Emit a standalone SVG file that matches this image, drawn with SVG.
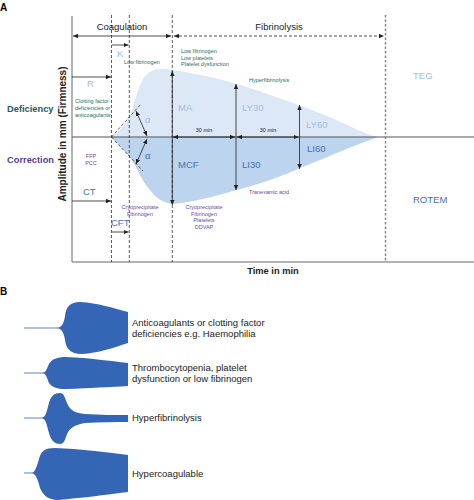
<svg xmlns="http://www.w3.org/2000/svg" width="474" height="500" viewBox="0 0 474 500">
<style>
text{font-family:"Liberation Sans",Arial,sans-serif}
.b{font-weight:bold}
.tiny{font-size:5.5px}
.tg{fill:#2f6b5e}
.tp{fill:#6b4aa0}
.lb{fill:#9fbde3;font-size:9.5px}
.db{fill:#4472b8;font-size:9.5px}
.ar{stroke:#222;stroke-width:0.8;fill:none}
.vd{stroke:#333;stroke-width:0.8;stroke-dasharray:3 2;fill:none}
.bt{font-size:9.5px;fill:#222}
.sh{fill:#3565b5}
.tail{stroke:#5a82c6;stroke-width:1}
</style>
<defs>
<marker id="ah" markerUnits="userSpaceOnUse" markerWidth="5" markerHeight="5" viewBox="0 0 5 5" refX="5" refY="2.5" orient="auto-start-reverse">
<path d="M0,0.3 L5,2.5 L0,4.7 z" fill="#222"/>
</marker>
</defs>
<rect width="474" height="500" fill="#fff"/>

<g id="panelA">
<text x="0" y="11" class="b" font-size="10">A</text>

<g id="shapes">
<path d="M111,137 C118,133 126,125 131,113 C135,101 138,88 143,79 C148,71 156,68 168,69 L172,70 C200,74 225,80 250,88 C285,100 320,112 345,124 C358,130 368,135 378,137 Z" fill="#dce8f6"/>
<path d="M111,137 C118,143 126,152 132,160 C138,170 143,183 150,190 C156,198 163,203 173,204 C195,202 215,196 237,190 C260,184 285,175 305,166 C330,156 355,145 378,137 Z" fill="#bcd4ee"/>
</g>

<g id="axes">
<line x1="72" y1="16" x2="72" y2="262" stroke="#666" stroke-width="1"/>
<line x1="72" y1="262" x2="474" y2="262" stroke="#666" stroke-width="1"/>
<line x1="72" y1="137" x2="474" y2="137" stroke="#555" stroke-width="1"/>
<line x1="111.5" y1="15" x2="111.5" y2="262" class="vd"/>
<line x1="129.3" y1="15" x2="129.3" y2="262" class="vd"/>
<line x1="172.3" y1="15" x2="172.3" y2="262" class="vd"/>
<line x1="385.5" y1="15" x2="385.5" y2="262" stroke="#888" stroke-width="1.5" stroke-dasharray="2.5 2"/>
</g>

<g id="connectors">
<line x1="73" y1="36" x2="171" y2="36" class="ar" marker-start="url(#ah)" marker-end="url(#ah)"/>
<line x1="174" y1="36" x2="384" y2="36" class="ar" stroke-dasharray="3 2" marker-start="url(#ah)" marker-end="url(#ah)"/>
<line x1="112" y1="45" x2="128.5" y2="45" class="ar" marker-end="url(#ah)"/>
<line x1="72" y1="77" x2="111" y2="77" class="ar" marker-end="url(#ah)"/>
<line x1="72" y1="201" x2="111" y2="201" class="ar" marker-end="url(#ah)"/>
<line x1="112" y1="232" x2="128.5" y2="232" class="ar" marker-end="url(#ah)"/>
<line x1="172.3" y1="137" x2="172.3" y2="71" class="ar" marker-end="url(#ah)"/>
<line x1="172.3" y1="137" x2="172.3" y2="205" class="ar" marker-end="url(#ah)"/>
<line x1="236" y1="137" x2="236" y2="84" class="ar" marker-end="url(#ah)"/>
<line x1="236" y1="137" x2="236" y2="190" class="ar" marker-end="url(#ah)"/>
<line x1="299.5" y1="137" x2="299.5" y2="105" class="ar" marker-end="url(#ah)"/>
<line x1="299.5" y1="137" x2="299.5" y2="169" class="ar" marker-end="url(#ah)"/>
<line x1="173" y1="137" x2="235" y2="137" class="ar" marker-start="url(#ah)" marker-end="url(#ah)"/>
<line x1="237" y1="137" x2="298.5" y2="137" class="ar" marker-start="url(#ah)" marker-end="url(#ah)"/>
<line x1="111.5" y1="137" x2="141" y2="104" class="vd"/>
<line x1="111.5" y1="137" x2="143" y2="171" class="vd"/>
<line x1="136" y1="111" x2="147" y2="136" class="ar" marker-start="url(#ah)" marker-end="url(#ah)"/>
<line x1="147" y1="139" x2="136" y2="164" class="ar" marker-start="url(#ah)" marker-end="url(#ah)"/>
</g>

<g id="labels">
<text x="122" y="30" font-size="9.5" fill="#222" text-anchor="middle">Coagulation</text>
<text x="279" y="30" font-size="9.5" fill="#222" text-anchor="middle">Fibrinolysis</text>
<text x="7" y="112" class="b" font-size="9.3" fill="#1e5a66">Deficiency</text>
<text x="7" y="163" class="b" font-size="9.3" fill="#5b3c91">Correction</text>
<text transform="translate(65.5,134) rotate(-90)" class="b" font-size="10" fill="#222" text-anchor="middle">Amplitude in mm (Firmness)</text>
<text x="273" y="274" class="b" font-size="9.3" fill="#222" text-anchor="middle">Time in min</text>

<text x="117" y="57" class="lb">K</text>
<text x="87" y="87" class="lb">R</text>
<text x="178" y="111" class="lb">MA</text>
<text x="242" y="111" class="lb">LY30</text>
<text x="306" y="128" class="lb">LY60</text>
<text x="413" y="79" class="lb">TEG</text>
<text x="145" y="123" class="lb">α</text>

<text x="83" y="195" class="db">CT</text>
<text x="111" y="226" class="db">CFT</text>
<text x="178" y="168" class="db">MCF</text>
<text x="242" y="168" class="db">LI30</text>
<text x="307" y="152" class="db">LI60</text>
<text x="413" y="203" class="db">ROTEM</text>
<text x="145" y="159" class="db">α</text>

<text x="124" y="64" class="tiny tg">Low fibrinogen</text>
<text class="tiny tg"><tspan x="75" y="103">Clotting factor</tspan><tspan x="75" y="110">deficiencies or</tspan><tspan x="75" y="117">anticoagulants</tspan></text>
<text class="tiny tg"><tspan x="181" y="53">Low fibrinogen</tspan><tspan x="181" y="59.5">Low platelets</tspan><tspan x="181" y="66">Platelet dysfunction</tspan></text>
<text x="249" y="82" class="tiny tg">Hyperfibrinolysis</text>
<text x="204" y="132" class="tiny" fill="#222" text-anchor="middle">30 min</text>
<text x="268" y="132" class="tiny" fill="#222" text-anchor="middle">30 min</text>
<text x="249" y="194" class="tiny tp">Tranexamic acid</text>
<text class="tiny tp" text-anchor="middle"><tspan x="91" y="158">FFP</tspan><tspan x="91" y="164.5">PCC</tspan></text>
<text class="tiny tp" text-anchor="middle"><tspan x="140" y="209">Cryoprecipitate</tspan><tspan x="140" y="215.5">Fibrinogen</tspan></text>
<text class="tiny tp" text-anchor="middle"><tspan x="204" y="209">Cryoprecipitate</tspan><tspan x="204" y="215.5">Fibrinogen</tspan><tspan x="204" y="222">Platelets</tspan><tspan x="204" y="228.5">DDVAP</tspan></text>
</g>
</g>

<g id="panelB">
<text x="0" y="295" class="b" font-size="10">B</text>

<g id="b1">
<line x1="24" y1="328" x2="58" y2="328" class="tail"/>
<path class="sh" d="M56,328 C62,328 64,323 65,316 C66,307 70,302 80,302 C98,303 113,308 128,312 L128,343 C113,348 98,353 82,354 C70,354 66,348 65,340 C64,333 62,328 56,328 Z"/>
<text class="bt"><tspan x="132" y="325.5">Anticoagulants or clotting factor</tspan><tspan x="132" y="336.7">deficiencies e.g. Haemophilia</tspan></text>
</g>

<g id="b2">
<line x1="24" y1="373" x2="44" y2="373" class="tail"/>
<path class="sh" d="M42,373 C46,373 47,368 49,364 C52,359 57,357 66,357 C90,358 110,361 128,363 L128,386 C110,387 90,388 66,389 C57,389 52,387 49,383 C47,378 46,373 42,373 Z"/>
<text class="bt"><tspan x="132" y="370.7">Thrombocytopenia, platelet</tspan><tspan x="132" y="381.7">dysfunction or low fibrinogen</tspan></text>
</g>

<g id="b3">
<line x1="24" y1="418" x2="44" y2="418" class="tail"/>
<path class="sh" d="M42,418 C46,417 47,410 49,403 C51,396 54,393 60,393 C64,393 65,398 67,403 C70,410 74,413 85,414 C100,415 115,415 128,415 L128,422 C115,422 100,422 85,423 C74,425 70,428 67,434 C65,440 64,444 60,444 C54,444 51,440 49,433 C47,426 46,419 42,418 Z"/>
<text x="132" y="421.3" class="bt">Hyperfibrinolysis</text>
</g>

<g id="b4">
<line x1="24" y1="473" x2="34" y2="473" class="tail"/>
<path class="sh" d="M32,473 C35,472 37,466 39,459 C41,451 45,448 55,448 C80,449 105,452 128,455 L128,492 C105,495 80,498 58,500 C48,500 43,495 40,488 C38,480 36,474 32,473 Z"/>
<text x="132" y="476.7" class="bt">Hypercoagulable</text>
</g>
</g>
</svg>
